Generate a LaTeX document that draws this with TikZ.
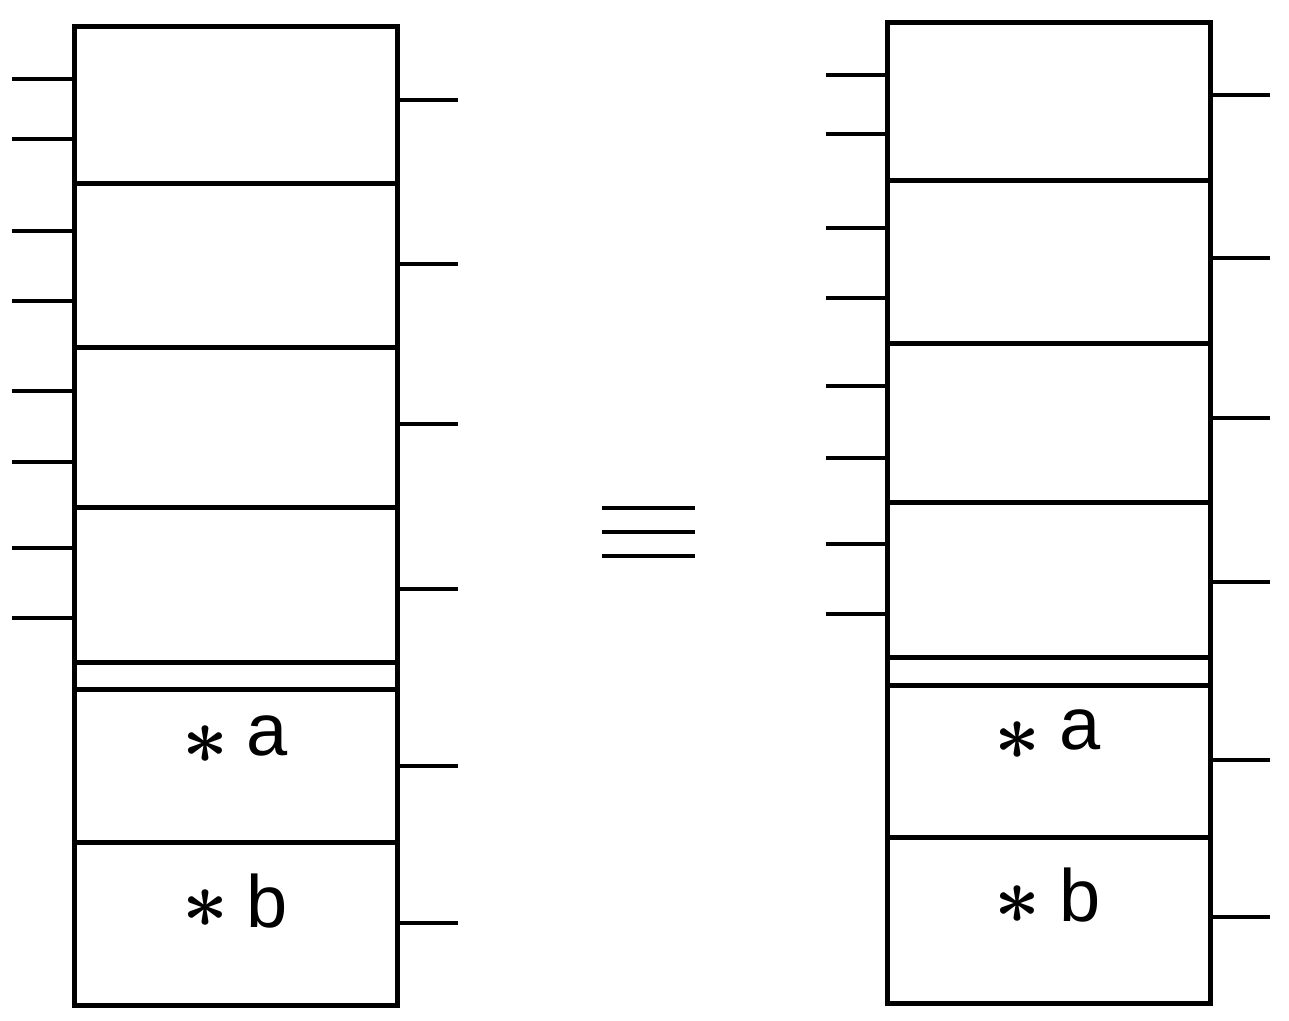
\RequirePackage{fix-cm}
\documentclass[tikz,border=0pt]{standalone}
\usepackage{fontspec}
\setmainfont{Liberation Sans}
\begin{document}
\begin{tikzpicture}[x=1pt,y=-1pt,line width=5pt,
  box/.style={draw,line cap=rect},
  pin/.style={draw,line width=4.5pt},
  lbl/.style={font=\fontsize{74}{74}\selectfont,inner sep=0pt,anchor=base},
  star/.style={font=\fontsize{80}{80}\selectfont\boldmath,inner sep=0pt}]
\useasboundingbox (0,0) rectangle (1289,1020);
% ---- left chip ----
\draw[box] (74,26) rectangle (397,1005);
\foreach \y in {183,347,507,662,689,842} \draw (74,\y) -- (397,\y);
\foreach \y in {79,139,231,301,391,462,548,618} \draw[pin] (12,\y) -- (74,\y);
\foreach \y in {100,264,424,589,766,923} \draw[pin] (397,\y) -- (458,\y);
\node[star] (la) at (205,745) {$\ast$};
\node[lbl] (lta) at (267,755) {a};
\node[star] (lb) at (205,909) {$\ast$};
\node[lbl] (ltb) at (267,927) {b};
% ---- equivalence ----
\foreach \y in {508,532,556} \draw[line width=4.5pt] (602,\y) -- (695,\y);
% ---- right chip ----
\draw[box] (887,22) rectangle (1210,1003);
\foreach \y in {180,343,502,657,685,837} \draw (887,\y) -- (1210,\y);
\foreach \y in {75,134,228,298,386,458,544,614} \draw[pin] (826,\y) -- (887,\y);
\foreach \y in {95,258,418,582,760,917} \draw[pin] (1210,\y) -- (1270,\y);
\node[star] (ra) at (1017,741) {$\ast$};
\node[lbl] (rta) at (1080,749) {a};
\node[star] (rb) at (1017,905) {$\ast$};
\node[lbl] (rtb) at (1080,921) {b};
\end{tikzpicture}
\end{document}
